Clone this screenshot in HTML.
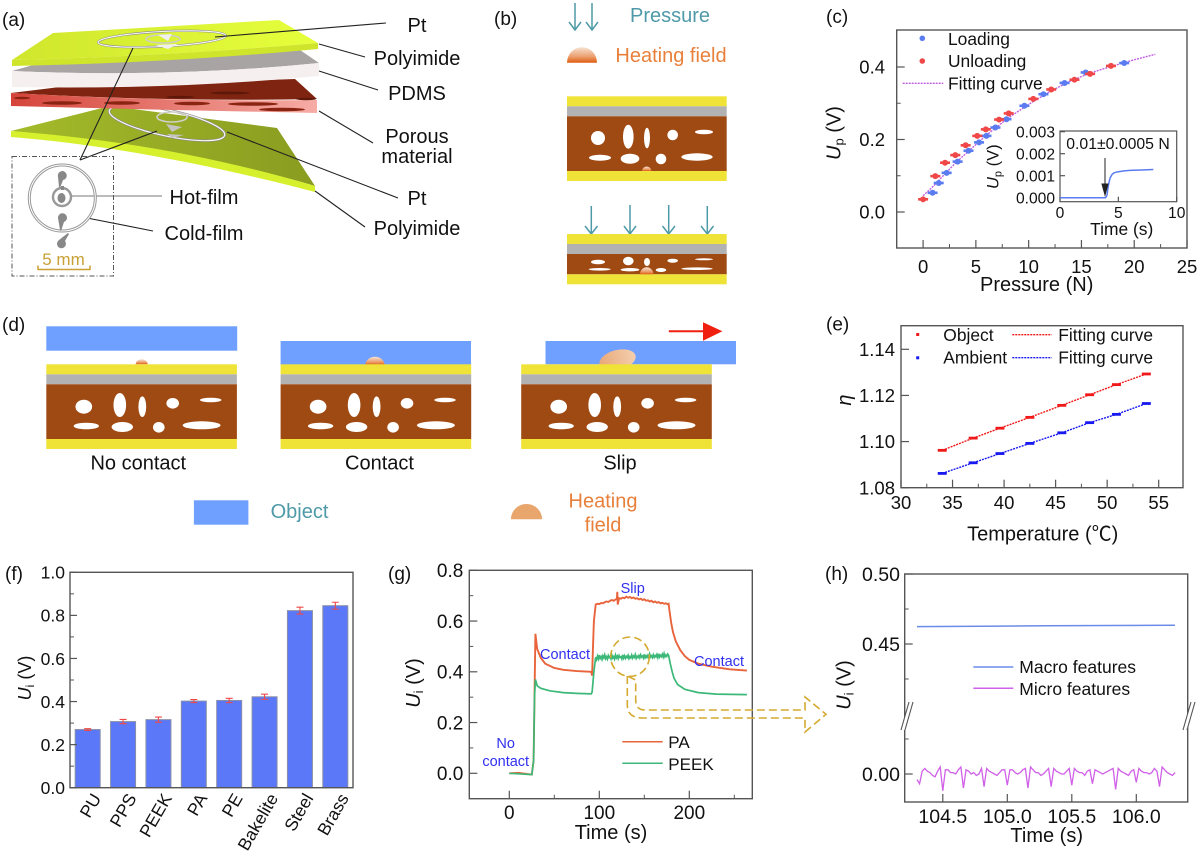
<!DOCTYPE html>
<html lang="en"><head><meta charset="utf-8"><title>Tactile sensor figure</title>
<style>
html,body{margin:0;padding:0;background:#fff}
svg{display:block;filter:blur(0.35px)}
text{font-family:"Liberation Sans","Noto Sans CJK SC",sans-serif;fill:#111}
.lab{font-size:20px}
.pl{font-size:19px}
.dash{fill:none;stroke:#d4aa30;stroke-width:1.6;stroke-dasharray:8 4}
.lead{stroke:#222;stroke-width:1.1;fill:none}
.frame{fill:none;stroke:#555;stroke-width:1.4}
</style></head><body>
<svg id="fig" xmlns="http://www.w3.org/2000/svg" width="1200" height="854" viewBox="0 0 1200 854">
<defs>
<linearGradient id="gTop" x1="0" x2="1"><stop offset="0" stop-color="#cfe62c"/><stop offset="1" stop-color="#e6ff3c"/></linearGradient>
<linearGradient id="gLow" x1="0" x2="1"><stop offset="0" stop-color="#a4bb2a"/><stop offset="1" stop-color="#8a9c20"/></linearGradient>
<linearGradient id="gRed" x1="0" x2="1"><stop offset="0" stop-color="#d5443a"/><stop offset="1" stop-color="#f6aca5"/></linearGradient>
<linearGradient id="gHeat" x1="0" x2="0" y1="0" y2="1"><stop offset="0" stop-color="#f5e2d2"/><stop offset=".6" stop-color="#eca070"/><stop offset="1" stop-color="#e05c10"/></linearGradient>
<linearGradient id="gBlob" x1="0" x2="1"><stop offset="0" stop-color="#e8a878"/><stop offset="1" stop-color="#f4cfae"/></linearGradient>
</defs>
<rect width="1200" height="854" fill="#fff"/>

<!-- PANEL A -->
<g id="panel-a">
<text class="pl" x="2" y="26">(a)</text>
<g>
<path d="M11,131 L110,106 L277,128 L315,186 C230,160 100,140 11,131 Z" fill="url(#gLow)"/>
<path d="M11,131 C100,138 200,152 315,186 L315,192 C200,162 100,144 11,137 Z" fill="#d6f02e"/>
</g>
<g fill="none">
<ellipse cx="167" cy="123" rx="59" ry="13" transform="rotate(12 167 123)" stroke="#888" stroke-width="2.4"/>
<ellipse cx="167" cy="123" rx="59" ry="13" transform="rotate(12 167 123)" stroke="#f8f8f8" stroke-width="1.2"/>
<ellipse cx="172" cy="117" rx="15" ry="5" stroke="#d0d0c8" stroke-width="1.600"/>
<path d="M166,124 L182,127 L172,132 Z M167,134 L184,135 L172,138 Z" fill="#c4c4c0"/>
</g>
<g>
<path d="M11,93 L60,87 L295,79 L317,99 Q167,102 11,93 Z" fill="#7f2410"/>
<path d="M11,93 Q167,102 317,100 L317,113 Q167,110 11,106 Z" fill="url(#gRed)"/>
<g fill="#8a2412"><ellipse cx="62" cy="103" rx="20" ry="1.8"/><ellipse cx="122" cy="103" rx="18" ry="1.8"/><ellipse cx="192" cy="103.500" rx="18" ry="1.8"/><ellipse cx="253" cy="104" rx="25" ry="1.8"/><ellipse cx="282" cy="109.500" rx="23" ry="1.8"/><ellipse cx="22" cy="98" rx="8" ry="1.2"/></g>
<g fill="#5e180a"><ellipse cx="230" cy="93" rx="20" ry="1.4"/><ellipse cx="180" cy="97" rx="14" ry="1.2"/><ellipse cx="306" cy="99" rx="10" ry="1.2"/></g>
</g>
<g>
<path d="M12,71 L40,63 L300,50 L319,63 Q170,78 12,71 Z" fill="#a8a4a4"/>
<path d="M12,71 Q170,78 319,63 L319,76 Q170,90 12,87 Z" fill="#f6efef"/>
</g>
<g>
<path d="M53,33 L279,20 L318,43 Q170,56 12,60 Z" fill="url(#gTop)"/>
<path d="M12,60 Q170,56 318,43 L318,49 Q170,63 12,66 Z" fill="#cfe52c"/>
</g>
<g fill="none">
<ellipse cx="162" cy="39" rx="64" ry="7.500" transform="rotate(-3 162 39)" stroke="#888" stroke-width="2.200"/>
<ellipse cx="162" cy="39" rx="64" ry="7.500" transform="rotate(-3 162 39)" stroke="#f8f8f8" stroke-width="1.100"/>
<ellipse cx="163" cy="39" rx="17" ry="4" stroke="#cfcfc0" stroke-width="1.600"/>
<path d="M155,45 L178,44 L168,49 Z M158,35 L172,34 L168,41 Z" fill="#f0f0f0"/>
</g>
<g>
<line class="lead" x1="215" y1="37" x2="386" y2="23"/>
<line class="lead" x1="319" y1="44" x2="365" y2="57"/>
<line class="lead" x1="319" y1="71" x2="378" y2="90"/>
<line class="lead" x1="319" y1="111" x2="373" y2="143"/>
<line class="lead" x1="227" y1="132" x2="398" y2="198"/>
<line class="lead" x1="315" y1="191" x2="365" y2="227"/>
<line class="lead" x1="133" y1="48" x2="80" y2="160"/>
<line class="lead" x1="157" y1="131" x2="80" y2="160"/>
<line x1="72" y1="196" x2="162" y2="196" stroke="#777" stroke-width="1"/>
<line class="lead" x1="87" y1="218" x2="153" y2="231"/>
</g>
<g>
<rect x="12" y="156.500" width="101.500" height="119.500" fill="none" stroke="#555" stroke-width="1" stroke-dasharray="5 2 1 2"/>
<circle cx="62.300" cy="198" r="33" fill="none" stroke="#999" stroke-width="3"/>
<circle cx="62.300" cy="198" r="33" fill="none" stroke="#fff" stroke-width="1"/>
<circle cx="62" cy="197" r="9" fill="none" stroke="#999" stroke-width="2.400"/>
<g fill="#888">
<ellipse cx="61.500" cy="198" rx="4" ry="5"/>
<path d="M61,190 l0,-4 l3,0 l0,4 Z"/>
<path d="M58,183 a4.500,4.500 0 1 1 5,3 l-3,8 l-1,-1 Z" transform="translate(0,-6)"/>
<path d="M58,218 a4.500,4.500 0 1 1 6,4 l-3,9 l-1,-1 Z"/>
<path d="M59,240 a4.500,4.500 0 1 0 6,1 l4,-7 l-1,-1 Z"/>
</g>
<line x1="38" y1="269.500" x2="90" y2="269.500" stroke="#c9a034" stroke-width="1.500"/><line x1="38" y1="265.500" x2="38" y2="270" stroke="#c9a034" stroke-width="1.500"/><line x1="90" y1="265.500" x2="90" y2="270" stroke="#c9a034" stroke-width="1.500"/>
<text x="63.500" y="265" text-anchor="middle" class="lab" style="fill:#c9a034;font-size:17px">5 mm</text>
</g>
<g text-anchor="middle" class="lab">
<text x="417" y="32">Pt</text>
<text x="417" y="65">Polyimide</text>
<text x="417" y="100">PDMS</text>
<text x="417" y="143">Porous</text>
<text x="417" y="163">material</text>
<text x="417" y="205">Pt</text>
<text x="417" y="235">Polyimide</text>
<text x="204" y="204">Hot-film</text>
<text x="204" y="240">Cold-film</text>
</g>
</g>

<!-- PANEL B -->
<g id="panel-b">
<text class="pl" x="494" y="25">(b)</text>
<g id="b-arrows" fill="none" stroke="#4f9aa8" stroke-width="1.500">
<path d="M575,3 V30 M569,22 L575,30 L581,22"/>
<path d="M592,3 V30 M586,22 L592,30 L598,22"/>
<path d="M591.300,206 V234 M585,226 L591.300,234 L597.500,226"/>
<path d="M630,205 V234 M624,226 L630,234 L636,226"/>
<path d="M668.700,205 V234 M662.500,226 L668.700,234 L675,226"/>
<path d="M707.300,206 V234 M701,226 L707.300,234 L713.500,226"/>
</g>
<text x="670" y="22" text-anchor="middle" class="lab" style="fill:#4f9aa8">Pressure</text>
<path d="M567,62.700 A15,15.500 0 0 1 597,62.700 Z" fill="url(#gHeat)"/>
<text x="671" y="62" text-anchor="middle" class="lab" style="fill:#e8803c">Heating field</text>
<g>
<rect x="567" y="96.300" width="159.700" height="10" fill="#efe338"/>
<rect x="567" y="106.300" width="159.700" height="10" fill="#b2b2b2"/>
<rect x="567" y="116.300" width="159.700" height="55" fill="#a04a13"/>
<rect x="567" y="171" width="159.700" height="10" fill="#efe338"/>
<g fill="#fff">
<circle cx="598" cy="138" r="7"/><ellipse cx="628.300" cy="136.700" rx="5.300" ry="12"/><ellipse cx="647" cy="138" rx="3" ry="10.300"/><circle cx="672.700" cy="135" r="5.300"/><ellipse cx="704" cy="132" rx="9" ry="2.300"/>
<ellipse cx="600" cy="157.700" rx="11" ry="3"/><ellipse cx="630" cy="158.700" rx="9.300" ry="5"/><circle cx="661" cy="159" r="5.300"/><ellipse cx="697" cy="157" rx="15.700" ry="3.700"/>
</g>
<path d="M642,171 A4.700,4.500 0 0 1 651.400,171 Z" fill="url(#gHeat)"/>
</g>
<g>
<rect x="567" y="234" width="159.700" height="10" fill="#efe338"/>
<rect x="567" y="244" width="159.700" height="10" fill="#b2b2b2"/>
<rect x="567" y="254" width="159.700" height="20.300" fill="#a04a13"/>
<rect x="567" y="274.300" width="159.700" height="10" fill="#efe338"/>
<g fill="#fff">
<ellipse cx="598" cy="262" rx="7" ry="2.300"/><ellipse cx="599.700" cy="269.300" rx="11" ry="1.300"/><ellipse cx="628.300" cy="261" rx="5.300" ry="4.300"/><ellipse cx="630" cy="269.700" rx="9.300" ry="1.700"/><ellipse cx="647" cy="262" rx="3" ry="4"/><ellipse cx="672.700" cy="260.700" rx="5.300" ry="2"/><ellipse cx="661" cy="270" rx="5.300" ry="2"/><ellipse cx="704" cy="259.300" rx="9" ry="1"/><ellipse cx="697" cy="268.700" rx="15.700" ry="1.300"/>
</g>
<path d="M640,274.300 A6.700,7 0 0 1 653.400,274.300 Z" fill="url(#gHeat)"/>
</g>
</g>

<!-- PANEL C -->
<g id="panel-c">
<text class="pl" x="826" y="23">(c)</text>
<rect class="frame" x="896.700" y="30" width="290.300" height="218"/>
<text x="840.700" y="133" transform="rotate(-90 840.700 133)" text-anchor="middle" class="lab"><tspan font-style="italic">U</tspan><tspan dy="3" font-size="13">p</tspan><tspan dy="-3"> (V)</tspan></text>
<text x="1036.700" y="291" text-anchor="middle" class="lab">Pressure (N)</text>
<circle cx="922.300" cy="38.300" r="2.800" fill="#5b7cf0"/>
<text x="948" y="45" style="font-size:17.400px">Loading</text>
<circle cx="922.300" cy="61" r="2.800" fill="#f04848"/>
<text x="948" y="67" style="font-size:17.400px">Unloading</text>
<line x1="902.700" y1="83.300" x2="943.300" y2="83.300" stroke="#c060e0" stroke-width="1.400" stroke-dasharray="2 1"/>
<text x="948" y="89.500" style="font-size:17.400px">Fitting curve</text>
<g id="c-axis"></g>
<g id="c-marks"></g>
<rect x="1060" y="131" width="116.700" height="70.700" fill="#fff" stroke="#555" stroke-width="1.200"/>
<g id="ci-axis"></g>
<g id="ci-marks"></g>
<text x="1118" y="149" text-anchor="middle" style="font-size:15.800px">0.01±0.0005 N</text>
<path d="M1105,158 V192 M1102,184 L1105,195 L1108,184 Z" fill="#222" stroke="#222" stroke-width="1"/>
<text x="998.300" y="166.700" transform="rotate(-90 998.300 166.700)" text-anchor="middle" style="font-size:16.500px"><tspan font-style="italic">U</tspan><tspan dy="3" font-size="11">p</tspan><tspan dy="-3"> (V)</tspan></text>
<text x="1121.700" y="235" text-anchor="middle" style="font-size:17.400px">Time (s)</text>
</g>

<!-- PANEL D -->
<g id="panel-d">
<text class="pl" x="2" y="331">(d)</text>
<rect x="46.300" y="326.300" width="190.900" height="24.400" fill="#6fa0ff"/>
<rect x="280.600" y="341" width="190.400" height="24.300" fill="#6fa0ff"/>
<rect x="545.500" y="341" width="190.500" height="23.300" fill="#6fa0ff"/>
<path d="M135.700,364.300 A6,5 0 0 1 147.700,364.300 Z" fill="url(#gHeat)"/>
<path d="M365.300,365.300 A9.700,8.600 0 0 1 384.700,365.300 Z" fill="url(#gHeat)"/>
<ellipse cx="617.600" cy="360" rx="18.500" ry="10" transform="rotate(-14 617.600 360)" fill="url(#gBlob)"/>
<g id="stack-1" transform="translate(46.300 0)"></g>
<g id="stack-2" transform="translate(280.600 0)"></g>
<g id="stack-3" transform="translate(521.200 0)"></g>
<path d="M668.800,331.300 H705" stroke="#f02010" stroke-width="2"/>
<path d="M703,322.300 L722.400,331.300 L703,340.700 Z" fill="#f02010"/>
<g text-anchor="middle" class="lab">
<text x="138.300" y="469.300">No contact</text>
<text x="379.500" y="469.300">Contact</text>
<text x="620" y="469.300">Slip</text>
</g>
<rect x="193.900" y="500.300" width="54.500" height="24.400" fill="#6fa0ff"/>
<text x="299.500" y="518" text-anchor="middle" class="lab" style="fill:#4f9aa8">Object</text>
<path d="M510.900,519.300 A15.600,15.300 0 0 1 542.100,519.300 Z" fill="#e8a56c"/>
<text x="603" y="507.700" text-anchor="middle" class="lab" style="fill:#e8803c">Heating</text>
<text x="603" y="531.700" text-anchor="middle" class="lab" style="fill:#e8803c">field</text>
</g>

<!-- PANEL E -->
<g id="panel-e">
<text class="pl" x="826" y="330.700">(e)</text>
<rect class="frame" x="901" y="325.700" width="282" height="162"/>
<text x="851" y="400" transform="rotate(-90 851 400)" text-anchor="middle" font-style="italic" class="lab">η</text>
<text x="1042.700" y="540.700" text-anchor="middle" class="lab">Temperature (℃)</text>
<g id="e-axis"></g>
<g id="e-marks"></g>
<rect x="916.200" y="333" width="3" height="3" fill="#f01818"/>
<rect x="916.200" y="356.300" width="3" height="3" fill="#1818f0"/>
<text x="943.300" y="341" style="font-size:17.400px">Object</text>
<text x="943.300" y="363.500" style="font-size:17.400px">Ambient</text>
<line x1="1012.300" y1="334.700" x2="1051.700" y2="334.700" stroke="#f01818" stroke-width="1.400" stroke-dasharray="2 1"/>
<line x1="1012.300" y1="357.700" x2="1051.700" y2="357.700" stroke="#1818f0" stroke-width="1.400" stroke-dasharray="2 1"/>
<text x="1058.300" y="341" style="font-size:17.400px">Fitting curve</text>
<text x="1058.300" y="363.500" style="font-size:17.400px">Fitting curve</text>
</g>

<!-- PANEL F -->
<g id="panel-f">
<text class="pl" x="5" y="580">(f)</text>
<g id="f-marks"></g>
<rect class="frame" x="70" y="572.300" width="283" height="215.400"/>
<g id="f-axis"></g>
<text x="31" y="678" transform="rotate(-90 31 678)" text-anchor="middle" style="font-size:18px"><tspan font-style="italic">U</tspan><tspan dy="3" font-size="12">i</tspan><tspan dy="-3"> (V)</tspan></text>
</g>

<!-- PANEL G -->
<g id="panel-g">
<text class="pl" x="388" y="580">(g)</text>
<rect class="frame" x="469.300" y="570.300" width="283" height="228.400"/>
<g id="g-axis"></g>
<g id="g-marks"></g>
<text x="420" y="683" transform="rotate(-90 420 683)" text-anchor="middle" class="lab"><tspan font-style="italic">U</tspan><tspan dy="3" font-size="13">i</tspan><tspan dy="-3"> (V)</tspan></text>
<text x="611" y="839" text-anchor="middle" class="lab">Time (s)</text>
<g text-anchor="middle" style="font-size:14.500px">
<text x="632.700" y="593" style="fill:#3030f0">Slip</text>
<text x="565" y="659" style="fill:#3030f0">Contact</text>
<text x="719" y="666" style="fill:#3030f0">Contact</text>
<text x="505.700" y="748" style="fill:#3030f0">No</text>
<text x="505.700" y="766" style="fill:#3030f0">contact</text>
</g>
<line x1="622.300" y1="741.700" x2="662.700" y2="741.700" stroke="#e8643c" stroke-width="1.500"/>
<line x1="622.300" y1="763.300" x2="662.700" y2="763.300" stroke="#3cb878" stroke-width="1.500"/>
<text x="668.300" y="748" style="font-size:17px">PA</text>
<text x="668.300" y="770" style="font-size:17px">PEEK</text>
<ellipse class="dash" cx="630" cy="656.700" rx="19.300" ry="19.700"/>
<path class="dash" d="M627.300,676 V705 Q627.300,718 643,718 H805 V732 L826,714.300 L805,697 V710 H645 Q635.700,710 635.700,700 V680 Z"/>
</g>

<!-- PANEL H -->
<g id="panel-h">
<text class="pl" x="825" y="580">(h)</text>
<rect class="frame" x="904.700" y="574" width="283" height="228"/>
<g id="h-axis"></g>
<g id="h-marks"></g>
<g>
<path d="M901,730 L909,702 H913 L905,730 Z" fill="#fff"/><path d="M901,730 L909,702 M905,730 L913,702" stroke="#555" stroke-width="1.100" fill="none"/>
<path d="M1183,730 L1191,702 H1195 L1187,730 Z" fill="#fff"/><path d="M1183,730 L1191,702 M1187,730 L1195,702" stroke="#555" stroke-width="1.100" fill="none"/>
</g>
<text x="850.700" y="685" transform="rotate(-90 850.700 685)" text-anchor="middle" class="lab"><tspan font-style="italic">U</tspan><tspan dy="3" font-size="13">i</tspan><tspan dy="-3"> (V)</tspan></text>
<text x="1046.700" y="842" text-anchor="middle" class="lab">Time (s)</text>
<line x1="973.300" y1="667" x2="1013.300" y2="667" stroke="#6a8ce8" stroke-width="1.500"/>
<line x1="973.300" y1="688.300" x2="1013.300" y2="688.300" stroke="#d060e8" stroke-width="1.500"/>
<text x="1019.300" y="673" style="font-size:17.500px">Macro features</text>
<text x="1019.300" y="695" style="font-size:17.500px">Micro features</text>
</g>
</svg>

<script>
/* ---- panel (c) data ---- */
const loadP = [0.9,1.48,2.23,3.27,4.3,5.3,6.0,6.85,7.9,9.6,11.4,13.4,15.4,19.05];
const loadU = [0.053,0.08,0.108,0.139,0.169,0.192,0.21,0.233,0.256,0.293,0.325,0.356,0.385,0.411];
const unloadP = [0,1.16,2.08,3.05,4.03,5.13,5.94,7.2,8.11,10.44,12.14,14.34,15.82,17.8];
const unloadU = [0.035,0.099,0.136,0.157,0.184,0.21,0.228,0.255,0.272,0.312,0.338,0.365,0.381,0.403];
const fitP = [0,1,2,3,4,6,8,10,12,14,16,18,20,22];
const fitU = [0.045,0.072,0.103,0.133,0.160,0.212,0.258,0.297,0.332,0.362,0.385,0.403,0.42,0.435];
const cXTicks = [0,5,10,15,20,25];
const cXMinor = [2.5,7.5,12.5,17.5,22.5];
const cYTicks = [0,0.2,0.4];
const cYLabels = ['0.0','0.2','0.4'];
const cYMinor = [0.1,0.3];
const insetT = [0,1,2,3,3.9,4.02,4.1,4.2,4.3,4.45,4.6,4.8,5,5.5,6,7,8];
const insetU = [0,0,0,0,0,0.0001,0.0004,0.0007,0.0009,0.00105,0.00112,0.00116,0.00118,0.00122,0.00124,0.00126,0.00128];
const insetXTicks = [0,5,10];
const insetYTicks = [0,0.001,0.002,0.003];
const insetYLabels = ['0.000','0.001','0.002','0.003'];
/* ---- panel (e) data ---- */
const tempX = [34,37,39.6,42.5,45.6,48.3,50.9,53.8];
const objectEta = [1.0962,1.1015,1.1058,1.1105,1.1157,1.1203,1.1247,1.1293];
const ambientEta = [1.0862,1.0908,1.0948,1.0992,1.1038,1.1082,1.1118,1.1165];
const eXTicks = [30,35,40,45,50,55];
const eXMinor = [32.5,37.5,42.5,47.5,52.5];
const eYTicks = [1.08,1.10,1.12,1.14];
const eYLabels = ['1.08','1.10','1.12','1.14'];
/* ---- panel (f) data ---- */
const materials = ['PU','PPS','PEEK','PA','PE','Bakelite','Steel','Brass'];
const materialU = [0.27,0.307,0.316,0.402,0.405,0.422,0.822,0.845];
const materialErr = [0.004,0.01,0.012,0.007,0.01,0.012,0.016,0.016];
const fYTicks = [0,0.2,0.4,0.6,0.8,1.0];
const fYLabels = ['0.0','0.2','0.4','0.6','0.8','1.0'];
const fYMinor = [0.1,0.3,0.5,0.7,0.9];
/* ---- panel (g) data ---- */
const paT = [0,10,25,27,28,29,31,35,40,50,60,75,91,92,93,94,96,98,100,102,104,106,108,110,112,114,116,118,119.500,120,120.500,122,124,126,128,130,132,134,136,138,140,142,144,146,148,150,152,154,156,158,160,162,164,166,168,170,172,174,176,177,178,180,182,185,190,195,200,210,225,245,264];
const paU = [0,0.002,-0.005,0.05,0.3,0.55,0.49,0.455,0.432,0.415,0.408,0.403,0.4,0.385,0.5,0.6,0.665,0.668,0.667,0.671,0.67,0.674,0.677,0.675,0.68,0.683,0.68,0.685,0.687,0.715,0.665,0.69,0.688,0.692,0.69,0.696,0.692,0.695,0.69,0.693,0.688,0.69,0.685,0.688,0.683,0.686,0.68,0.682,0.677,0.68,0.674,0.677,0.672,0.675,0.67,0.672,0.668,0.67,0.666,0.668,0.64,0.59,0.555,0.52,0.485,0.462,0.447,0.432,0.42,0.41,0.405];
const peekT = [0,10,25,27,28,29,31,35,45,60,75,91,92,94,95,96,97,98,99,100,101,102,103,104,105,106,107,108,109,110,111,112,113,114,115,116,117,118,119,120,121,122,123,124,125,126,127,128,129,130,131,132,133,134,135,136,137,138,139,140,141,142,143,144,145,146,147,148,149,150,151,152,153,154,155,156,157,158,159,160,161,162,163,164,165,166,167,168,169,170,171,172,173,174,175,176,177,179,181,183,187,195,210,230,264];
const peekU = [0,-0.002,-0.005,0.05,0.3,0.37,0.345,0.335,0.325,0.318,0.315,0.313,0.32,0.4,0.43,0.458,0.448,0.462,0.451,0.466,0.453,0.46,0.449,0.463,0.455,0.467,0.452,0.459,0.45,0.464,0.456,0.461,0.451,0.465,0.454,0.46,0.45,0.466,0.455,0.462,0.452,0.464,0.457,0.459,0.451,0.467,0.454,0.463,0.453,0.461,0.456,0.465,0.452,0.46,0.455,0.466,0.454,0.462,0.457,0.468,0.453,0.461,0.456,0.464,0.455,0.467,0.458,0.462,0.454,0.469,0.456,0.463,0.457,0.465,0.455,0.47,0.458,0.463,0.456,0.467,0.457,0.464,0.459,0.468,0.456,0.471,0.458,0.465,0.46,0.469,0.458,0.472,0.459,0.466,0.461,0.47,0.465,0.43,0.4,0.375,0.35,0.331,0.318,0.312,0.31];
const gXTicks = [0,100,200];
const gXMinor = [50,150,250];
const gYTicks = [0,0.2,0.4,0.6,0.8];
const gYLabels = ['0.0','0.2','0.4','0.6','0.8'];
const gYMinor = [0.1,0.3,0.5,0.7];
/* ---- panel (h) data ---- */
const macroT = [104.3,104.8,105.3,105.8,106.3];
const macroU = [0.4624,0.4627,0.463,0.4632,0.4634];
const microT = [104.30,104.32,104.34,104.36,104.38,104.40,104.42,104.44,104.46,104.48,104.50,104.52,104.54,104.56,104.58,104.60,104.62,104.64,104.66,104.68,104.70,104.72,104.74,104.76,104.78,104.80,104.82,104.84,104.86,104.88,104.90,104.92,104.94,104.96,104.98,105.00,105.02,105.04,105.06,105.08,105.10,105.12,105.14,105.16,105.18,105.20,105.22,105.24,105.26,105.28,105.30,105.32,105.34,105.36,105.38,105.40,105.42,105.44,105.46,105.48,105.50,105.52,105.54,105.56,105.58,105.60,105.62,105.64,105.66,105.68,105.70,105.72,105.74,105.76,105.78,105.80,105.82,105.84,105.86,105.88,105.90,105.92,105.94,105.96,105.98,106.00,106.02,106.04,106.06,106.08,106.10,106.12,106.14,106.16,106.18,106.20,106.22,106.24,106.26,106.28,106.30];
const microU = [-0.004,-0.007,0.002,0.004,0.002,0.001,-0.001,-0.002,0.002,0.005,-0.012,0.003,0.003,0.001,0.001,0,0.003,0.005,-0.01,0.003,0.002,0,0.001,-0.001,0,0.004,-0.009,0.004,0.002,0.001,0,-0.001,0.001,0.003,0.003,-0.008,0.003,0.003,0.001,0,0.001,0.003,0.004,-0.01,0.005,0.003,0.001,0.001,-0.001,0,0.002,0.004,-0.009,0.004,0.002,0.001,0,0,0.002,0.004,-0.008,0.004,0.002,0.001,0.001,-0.001,0.002,0.003,-0.007,0.003,0.002,0.001,0,0.001,0.002,0.003,0.004,-0.011,0.004,0.002,0.001,0,-0.001,0.002,0.003,-0.006,0.004,0.002,0.001,0.001,0,0.001,0.004,0.002,-0.009,0.005,0.003,0.001,0,-0.001,0.001];
const hXTicks = [104.5,105,105.5,106];
const hXLabels = ['104.5','105.0','105.5','106.0'];
const hYTicks = [0,0.45,0.5];
const hYLabels = ['0.00','0.45','0.50'];
const hYMinor = [0.025,0.425,0.475];
/* ---- panel (d) hole data: stack pattern ---- */
const holeDx = [37.5,73.5,96,126.4,164.4,40,76,112.5,155.3];
const holeY = [406.7,405,406.7,403.3,400,426,427,427.3,425.3];
const holeRx = [8.3,6.3,3.9,6.3,10.7,12.7,10.7,5.8,19];
const holeRy = [7,12,10.3,5.3,2.3,3.3,5,5.3,4];

const NS = 'http://www.w3.org/2000/svg';
function mk(parent, tag, attrs, txt){
  const el = document.createElementNS(NS, tag);
  for (const k in attrs) el.setAttribute(k, attrs[k]);
  if (txt !== undefined) el.textContent = txt;
  parent.appendChild(el);
  return el;
}
function linear(d0, d1, r0, r1){
  return function(v){ return r0 + (v - d0) * (r1 - r0) / (d1 - d0); };
}
function pts(xs, ys, sx, sy){
  return xs.map(function(v, i){ return sx(v).toFixed(2) + ',' + sy(ys[i]).toFixed(2); }).join(' ');
}
function drawAxes(id, sx, sy, box, o){
  const g = document.getElementById(id);
  (o.xTicks || []).forEach(function(v, i){
    const t = mk(g, 'line', {x1:sx(v), x2:sx(v), y1:box.b, y2:box.b - o.major, stroke:'#555', 'stroke-width':1.2});
    
    
    const l = mk(g, 'text', {x:sx(v), y:o.xLabelY, 'text-anchor':'middle', style:'font-size:' + o.fs + 'px'}, o.xLabels[i]);
    
    
  });
  (o.xMinor || []).forEach(function(v){
    const t = mk(g, 'line', {x1:sx(v), x2:sx(v), y1:box.b, y2:box.b - o.minor, stroke:'#555', 'stroke-width':1});
    
    
  });
  (o.yTicks || []).forEach(function(v, i){
    const t = mk(g, 'line', {x1:box.l, x2:box.l + o.major, y1:sy(v), y2:sy(v), stroke:'#555', 'stroke-width':1.2});
    
    
    const l = mk(g, 'text', {x:o.yLabelX, y:sy(v) + o.fs * 0.36, 'text-anchor':'end', style:'font-size:' + o.fs + 'px'}, o.yLabels[i]);
    
    
  });
  (o.yMinor || []).forEach(function(v){
    const t = mk(g, 'line', {x1:box.l, x2:box.l + o.minor, y1:sy(v), y2:sy(v), stroke:'#555', 'stroke-width':1});
    
    
  });
}

/* panel c */
const cx = linear(-2.5, 25, 896.7, 1187);
const cy = linear(0, 0.4, 212, 67);
drawAxes('c-axis', cx, cy, {l:896.7, b:248}, {xTicks:cXTicks, xLabels:cXTicks.map(String), xMinor:cXMinor, yTicks:cYTicks, yLabels:cYLabels, yMinor:cYMinor, major:8, minor:4, fs:18.5, xLabelY:273, yLabelX:885});
const cMarks = document.getElementById('c-marks');
const fitLine = mk(cMarks, 'polyline', {points:pts(fitP, fitU, cx, cy), fill:'none', stroke:'#c060e0', 'stroke-width':1.4, 'stroke-dasharray':'2 1'});


loadP.forEach(function(v, i){
  const e = mk(cMarks, 'line', {x1:cx(v) - 5, x2:cx(v) + 5, y1:cy(loadU[i]), y2:cy(loadU[i]), stroke:'#5b7cf0', 'stroke-width':2.6});
  
  
  const p = mk(cMarks, 'circle', {cx:cx(v), cy:cy(loadU[i]), r:3, fill:'#5b7cf0'});
  
  
});
unloadP.forEach(function(v, i){
  const e = mk(cMarks, 'line', {x1:cx(v) - 5, x2:cx(v) + 5, y1:cy(unloadU[i]), y2:cy(unloadU[i]), stroke:'#f04848', 'stroke-width':2.6});
  
  
  const p = mk(cMarks, 'circle', {cx:cx(v), cy:cy(unloadU[i]), r:3, fill:'#f04848'});
  
  
});
/* inset */
const ix = linear(0, 10, 1060, 1176.7);
const iy = linear(0, 0.003, 197.7, 131.7);
drawAxes('ci-axis', ix, iy, {l:1060, b:201.7}, {xTicks:insetXTicks, xLabels:insetXTicks.map(String), yTicks:insetYTicks, yLabels:insetYLabels, major:5, minor:3, fs:15.6, xLabelY:218, yLabelX:1055});
const insetLine = mk(document.getElementById('ci-marks'), 'polyline', {points:pts(insetT, insetU, ix, iy), fill:'none', stroke:'#5b7cf0', 'stroke-width':1.5});



/* panel d stacks */
[1,2,3].forEach(function(n){
  const g = document.getElementById('stack-' + n);
  const layerY = [364.3, 374.3, 384.3, 439];
  const layerH = [10, 10, 54.7, 10];
  const layerC = ['#efe338', '#b2b2b2', '#a04a13', '#efe338'];
  layerY.forEach(function(y, i){
    const r = mk(g, 'rect', {x:0, y:y, width:190.6, height:layerH[i], fill:layerC[i]});
    
    
  });
  holeDx.forEach(function(dx, i){
    const h = mk(g, 'ellipse', {cx:dx, cy:holeY[i], rx:holeRx[i], ry:holeRy[i], fill:'#fff'});
    
    
  });
});

/* panel e */
const ex = linear(30, 55, 901, 1158.7);
const ey = linear(1.08, 1.14, 487.7, 349.3);
drawAxes('e-axis', ex, ey, {l:901, b:487.7}, {xTicks:eXTicks, xLabels:eXTicks.map(String), xMinor:eXMinor, yTicks:eYTicks, yLabels:eYLabels, major:8, minor:4, fs:18.5, xLabelY:509, yLabelX:895});
const eMarks = document.getElementById('e-marks');
const objFit = mk(eMarks, 'polyline', {points:pts(tempX, objectEta, ex, ey), fill:'none', stroke:'#f01818', 'stroke-width':1.4, 'stroke-dasharray':'2 1'});


const ambFit = mk(eMarks, 'polyline', {points:pts(tempX, ambientEta, ex, ey), fill:'none', stroke:'#1818f0', 'stroke-width':1.4, 'stroke-dasharray':'2 1'});


tempX.forEach(function(v, i){
  const a = mk(eMarks, 'line', {x1:ex(v) - 4.5, x2:ex(v) + 4.5, y1:ey(objectEta[i]), y2:ey(objectEta[i]), stroke:'#f01818', 'stroke-width':2.8});
  
  
  const b = mk(eMarks, 'line', {x1:ex(v) - 4.5, x2:ex(v) + 4.5, y1:ey(ambientEta[i]), y2:ey(ambientEta[i]), stroke:'#1818f0', 'stroke-width':2.8});
  
  
});

/* panel f */
const fx = linear(0.5, 8.5, 70, 353);
const fy = linear(0, 1, 787.7, 572.3);
drawAxes('f-axis', fx, fy, {l:70, b:787.7}, {yTicks:fYTicks, yLabels:fYLabels, yMinor:fYMinor, major:7, minor:4, fs:17.5, yLabelX:65});
const fMarks = document.getElementById('f-marks');
materials.forEach(function(name, i){
  const c = fx(i + 1);
  const bar = mk(fMarks, 'rect', {x:c - 12.5, y:fy(materialU[i]), width:25, height:fy(0) - fy(materialU[i]), fill:'#5a78f8', stroke:'#8a8fa8', 'stroke-width':1});
  
  
  const hi = fy(materialU[i] + materialErr[i]);
  const lo = fy(materialU[i] - materialErr[i]);
  const err = mk(fMarks, 'path', {d:'M' + (c - 3.5) + ',' + hi + 'H' + (c + 3.5) + 'M' + c + ',' + hi + 'V' + lo + 'M' + (c - 3.5) + ',' + lo + 'H' + (c + 3.5), fill:'none', stroke:'#f04848', 'stroke-width':1.1});
  
  
  const lx = c + 14, ly = 798;
  const lab = mk(fMarks, 'text', {x:lx, y:ly, 'text-anchor':'end', transform:'rotate(-60 ' + lx + ' ' + ly + ')', style:'font-size:17.5px'}, name);
  
  
});

/* panel g */
const gx = linear(0, 200, 509.3, 689.3);
const gy = linear(0, 0.8, 773.3, 570.3);
drawAxes('g-axis', gx, gy, {l:469.3, b:798.7}, {xTicks:gXTicks, xLabels:gXTicks.map(String), xMinor:gXMinor, yTicks:gYTicks, yLabels:gYLabels, yMinor:gYMinor, major:8, minor:4, fs:19, xLabelY:819, yLabelX:463.3});
const gMarks = document.getElementById('g-marks');
const paLine = mk(gMarks, 'polyline', {points:pts(paT, paU, gx, gy), fill:'none', stroke:'#e8643c', 'stroke-width':1.9});


const peekLine = mk(gMarks, 'polyline', {points:pts(peekT, peekU, gx, gy), fill:'none', stroke:'#3cb878', 'stroke-width':1.7});



/* panel h: broken axis */
const hx = linear(105, 106, 1007.3, 1136.3);
const hUp = linear(0.45, 0.5, 644, 574);
const hLo = linear(0, 0.025, 774, 739);
const hy = function(v){ return v >= 0.2 ? hUp(v) : hLo(v); };
drawAxes('h-axis', hx, hy, {l:904.7, b:802}, {xTicks:hXTicks, xLabels:hXLabels, yTicks:hYTicks, yLabels:hYLabels, yMinor:hYMinor, major:8, minor:4, fs:19.5, xLabelY:823, yLabelX:900});
const hMarks = document.getElementById('h-marks');
const macroLine = mk(hMarks, 'polyline', {points:pts(macroT, macroU, hx, hy), fill:'none', stroke:'#6a8ce8', 'stroke-width':1.5});


const microLine = mk(hMarks, 'polyline', {points:pts(microT, microU, hx, hy), fill:'none', stroke:'#d060e8', 'stroke-width':1.3});


</script>
</body></html>
